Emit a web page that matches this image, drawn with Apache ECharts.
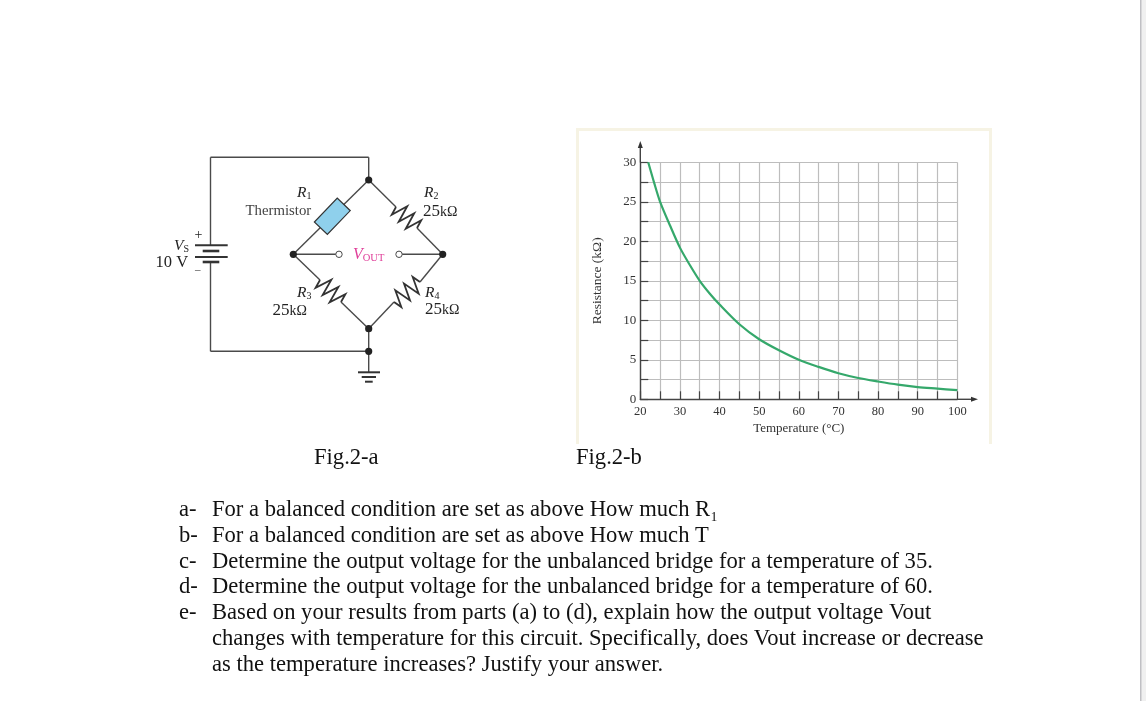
<!DOCTYPE html>
<html lang="en">
<head>
    <meta charset="UTF-8">
    <title>Fig.2</title>
    <script src="https://cdn.jsdelivr.net/npm/echarts@6/dist/echarts.min.js"></script>
    <style>
        html, body { margin: 0; padding: 0; background: #fff; }
        #main { width: 1146px; height: 701px; filter: blur(0.45px); }
    </style>
</head>
<body>
<div id="main"></div>
<script>
// thermistor curve
var temperature = [22, 23.5, 25, 27.5, 30, 32.5, 35, 37.5, 40, 45, 50, 55, 60, 65, 70, 75, 80, 85, 90, 95, 100];
var resistance = [30, 27.4, 25, 22, 19.2, 17, 15, 13.4, 12, 9.5, 7.6, 6.2, 5, 4.1, 3.3, 2.7, 2.25, 1.85, 1.55, 1.35, 1.15];
var xTickLabels = [20, 30, 40, 50, 60, 70, 80, 90, 100];
var yTickLabels = [0, 5, 10, 15, 20, 25, 30];
var questionLabels = ['a-', 'b-', 'c-', 'd-', 'e-', '', ''];
var questionLines = [
    'For a balanced condition are set as above How much R\u2081',
    'For a balanced condition are set as above How much T',
    'Determine the output voltage for the unbalanced bridge for a temperature of 35.',
    'Determine the output voltage for the unbalanced bridge for a temperature of 60.',
    'Based on your results from parts (a) to (d), explain how the output voltage Vout',
    'changes with temperature for this circuit. Specifically, does Vout increase or decrease',
    'as the temperature increases? Justify your answer.'
];

var serif = '"Liberation Serif", serif';
var wire = '#4a4a4a';
var graphics = [];

function line(x1, y1, x2, y2, color, width) {
    graphics.push({
        type: 'line', silent: true,
        shape: { x1: x1, y1: y1, x2: x2, y2: y2 },
        style: { stroke: color || wire, lineWidth: width || 1.4 }
    });
}
function dot(x, y) {
    graphics.push({ type: 'circle', silent: true, shape: { cx: x, cy: y, r: 3.6 }, style: { fill: '#222' } });
}
function openDot(x, y) {
    graphics.push({ type: 'circle', silent: true, shape: { cx: x, cy: y, r: 3.2 }, style: { fill: '#fff', stroke: wire, lineWidth: 1 } });
}
function label(x, y, text, size, extra) {
    var style = { x: x, y: y, text: text, fill: '#222', font: (size || 14) + 'px ' + serif, verticalAlign: 'middle', align: 'left' };
    for (var k in extra) { style[k] = extra[k]; }
    graphics.push({ type: 'text', silent: true, style: style });
}
// zigzag between two points, with leads drawn separately
function resistor(x1, y1, x2, y2, n, amp) {
    var dx = x2 - x1, dy = y2 - y1, len = Math.sqrt(dx * dx + dy * dy);
    var nx = -dy / len, ny = dx / len;
    var pts = [[x1, y1]];
    for (var i = 0; i < n; i++) {
        var t = (i + 0.5) / n, s = i % 2 ? -1 : 1;
        pts.push([x1 + dx * t + nx * amp * s, y1 + dy * t + ny * amp * s]);
    }
    pts.push([x2, y2]);
    graphics.push({ type: 'polyline', silent: true, shape: { points: pts }, style: { stroke: '#333', lineWidth: 1.8, fill: 'none' } });
}

// viewer scrollbar edge on the right
graphics.push({ type: 'rect', silent: true, shape: { x: 1141, y: 0, width: 5, height: 701 }, style: { fill: '#f0f0f0' } });
graphics.push({ type: 'rect', silent: true, shape: { x: 1140, y: 0, width: 1.5, height: 701 }, style: { fill: '#c0c0c4' } });

// paper behind the plot
graphics.push({ type: 'polyline', silent: true, shape: { points: [[577.5, 444], [577.5, 129.5], [990.5, 129.5], [990.5, 444]] }, style: { stroke: '#f6f3e4', lineWidth: 3, fill: 'none' } });

// axis arrows, past the end of the scale
line(640.3, 162, 640.3, 146, '#444', 1.4);
line(957, 399.3, 973, 399.3, '#444', 1.4);
graphics.push({ type: 'polygon', silent: true, shape: { points: [[640.3, 141], [637.8, 148], [642.8, 148]] }, style: { fill: '#333' } });
graphics.push({ type: 'polygon', silent: true, shape: { points: [[978, 399.3], [971, 396.8], [971, 401.8]] }, style: { fill: '#333' } });

// circuit: outer loop
line(210.5, 157.3, 368.7, 157.3);
line(368.7, 157.3, 368.7, 180);
line(210.5, 157.3, 210.5, 245);
line(210.5, 262, 210.5, 351.3);
line(210.5, 351.3, 368.7, 351.3);
line(368.7, 328.7, 368.7, 372);

// battery
line(195, 245.3, 227.7, 245.3, '#333', 2);
line(202.7, 251, 219.3, 251, '#333', 2.6);
line(195, 257, 227.7, 257, '#333', 2);
line(202.7, 262, 219.3, 262, '#333', 2.6);

// ground
line(358, 372.3, 380, 372.3, '#333', 2);
line(361.7, 377, 376, 377, '#333', 2);
line(365, 381.7, 372.7, 381.7, '#333', 2);

// bridge arms
line(368.7, 180, 293.3, 254.3);
line(368.7, 180, 396, 207);
resistor(396, 207, 417, 228, 6, 8.5);
line(417, 228, 442.7, 254.3);
line(293.3, 254.3, 320, 280);
resistor(320, 280, 341, 302, 6, 8.5);
line(341, 302, 368.7, 328.7);
line(368.7, 328.7, 394, 302);
resistor(394, 302, 420, 282, 6, 8.5);
line(420, 282, 442.7, 254.3);

// thermistor body
graphics.push({
    type: 'rect', silent: true, x: 332.3, y: 216.3, rotation: Math.PI / 4 + 0.02,
    shape: { x: -16.5, y: -9, width: 33, height: 18 },
    style: { fill: '#8fd0ec', stroke: '#333', lineWidth: 1.2 }
});

// Vout terminals
line(293.3, 254.3, 339, 254.3);
line(399, 254.3, 442.7, 254.3);
openDot(339, 254.3);
openDot(399, 254.3);

dot(368.7, 180);
dot(293.3, 254.3);
dot(442.7, 254.3);
dot(368.7, 328.7);
dot(368.7, 351.3);

// circuit labels
var subRich = {
    i: { font: 'italic 15.5px ' + serif, fill: '#222' },
    s: { font: '10px ' + serif, fill: '#222', verticalAlign: 'bottom', padding: [6, 0, 0, 0] },
    n: { font: '17px ' + serif, fill: '#222' },
    k: { font: '14px ' + serif, fill: '#222' },
    pi: { font: 'italic 16px ' + serif, fill: '#e0409a' },
    ps: { font: '10.5px ' + serif, fill: '#e0409a', padding: [6, 0, 0, 0] }
};
label(297, 193, '{i|R}{s|1}', 14, { rich: subRich });
label(424, 193, '{i|R}{s|2}', 14, { rich: subRich });
label(297, 293, '{i|R}{s|3}', 14, { rich: subRich });
label(425, 293, '{i|R}{s|4}', 14, { rich: subRich });
label(423, 212, '{n|25}{k|k\u03a9}', 14, { rich: subRich });
label(272.5, 311, '{n|25}{k|k\u03a9}', 14, { rich: subRich });
label(425, 310, '{n|25}{k|k\u03a9}', 14, { rich: subRich });
label(245.5, 211.5, 'Thermistor', 14.8, { fill: '#444' });
label(174, 246, '{i|V}{s|S}', 14, { rich: subRich });
label(155.5, 263, '10 V', 16.5);
label(194.5, 235, '+', 14);
label(195, 270, '\u2013', 11);
label(353, 255, '{pi|V}{ps|OUT}', 15, { rich: subRich });

// captions and questions
label(314, 458, 'Fig.2-a', 22.6, { fill: '#111' });
label(576, 458, 'Fig.2-b', 22.6, { fill: '#111' });
var lineY = [510, 536, 562, 587, 613, 639, 665];
for (var i = 0; i < questionLines.length; i++) {
    label(179, lineY[i], questionLabels[i], 22.6, { fill: '#111' });
    label(212, lineY[i], questionLines[i], 22.6, { fill: '#111' });
}

var chart = echarts.init(document.getElementById('main'), null, { renderer: 'canvas' });
chart.setOption({
    animation: false,
    backgroundColor: '#fff',
    grid: { left: 640.3, right: 188.7, top: 162.3, bottom: 301.7 },
    xAxis: {
        type: 'value', min: 20, max: 100, interval: 5,
        name: 'Temperature (\u00b0C)', nameLocation: 'middle', nameGap: 23,
        nameTextStyle: { fontFamily: serif, fontSize: 13, color: '#333' },
        axisLine: { onZero: false, lineStyle: { color: '#444', width: 1.4 } },
        axisTick: { inside: true, length: 8, lineStyle: { color: '#444', width: 1.2 } },
        axisLabel: {
            fontFamily: serif, fontSize: 12.5, color: '#333', margin: 6,
            showMinLabel: true, showMaxLabel: true,
            formatter: function (v) { return xTickLabels.indexOf(v) >= 0 ? String(v) : ''; }
        },
        splitLine: { lineStyle: { color: '#bdbdbd', width: 1.2 } }
    },
    yAxis: {
        type: 'value', min: 0, max: 30, interval: 2.5,
        name: 'Resistance (k\u03a9)', nameLocation: 'middle', nameGap: 36, nameRotate: 90,
        nameTextStyle: { fontFamily: serif, fontSize: 13.5, color: '#333' },
        axisLine: { show: true, onZero: false, lineStyle: { color: '#444', width: 1.4 } },
        axisTick: { show: true, inside: true, length: 8, lineStyle: { color: '#444', width: 1.2 } },
        axisLabel: {
            fontFamily: serif, fontSize: 13, color: '#333', margin: 4,
            padding: [3, 0, 0, 0],
            formatter: function (v) { return yTickLabels.indexOf(v) >= 0 ? String(v) : ''; }
        },
        splitLine: { lineStyle: { color: '#bdbdbd', width: 1.2 } }
    },
    series: [{
        type: 'line',
        name: 'Resistance',
        smooth: 0.3,
        clip: false,
        showSymbol: false,
        silent: true,
        lineStyle: { color: '#35a86b', width: 2.2 },
        data: temperature.map(function (t, i) { return [t, resistance[i]]; })
    }],
    graphic: { elements: graphics }
});
</script>
</body>
</html>
